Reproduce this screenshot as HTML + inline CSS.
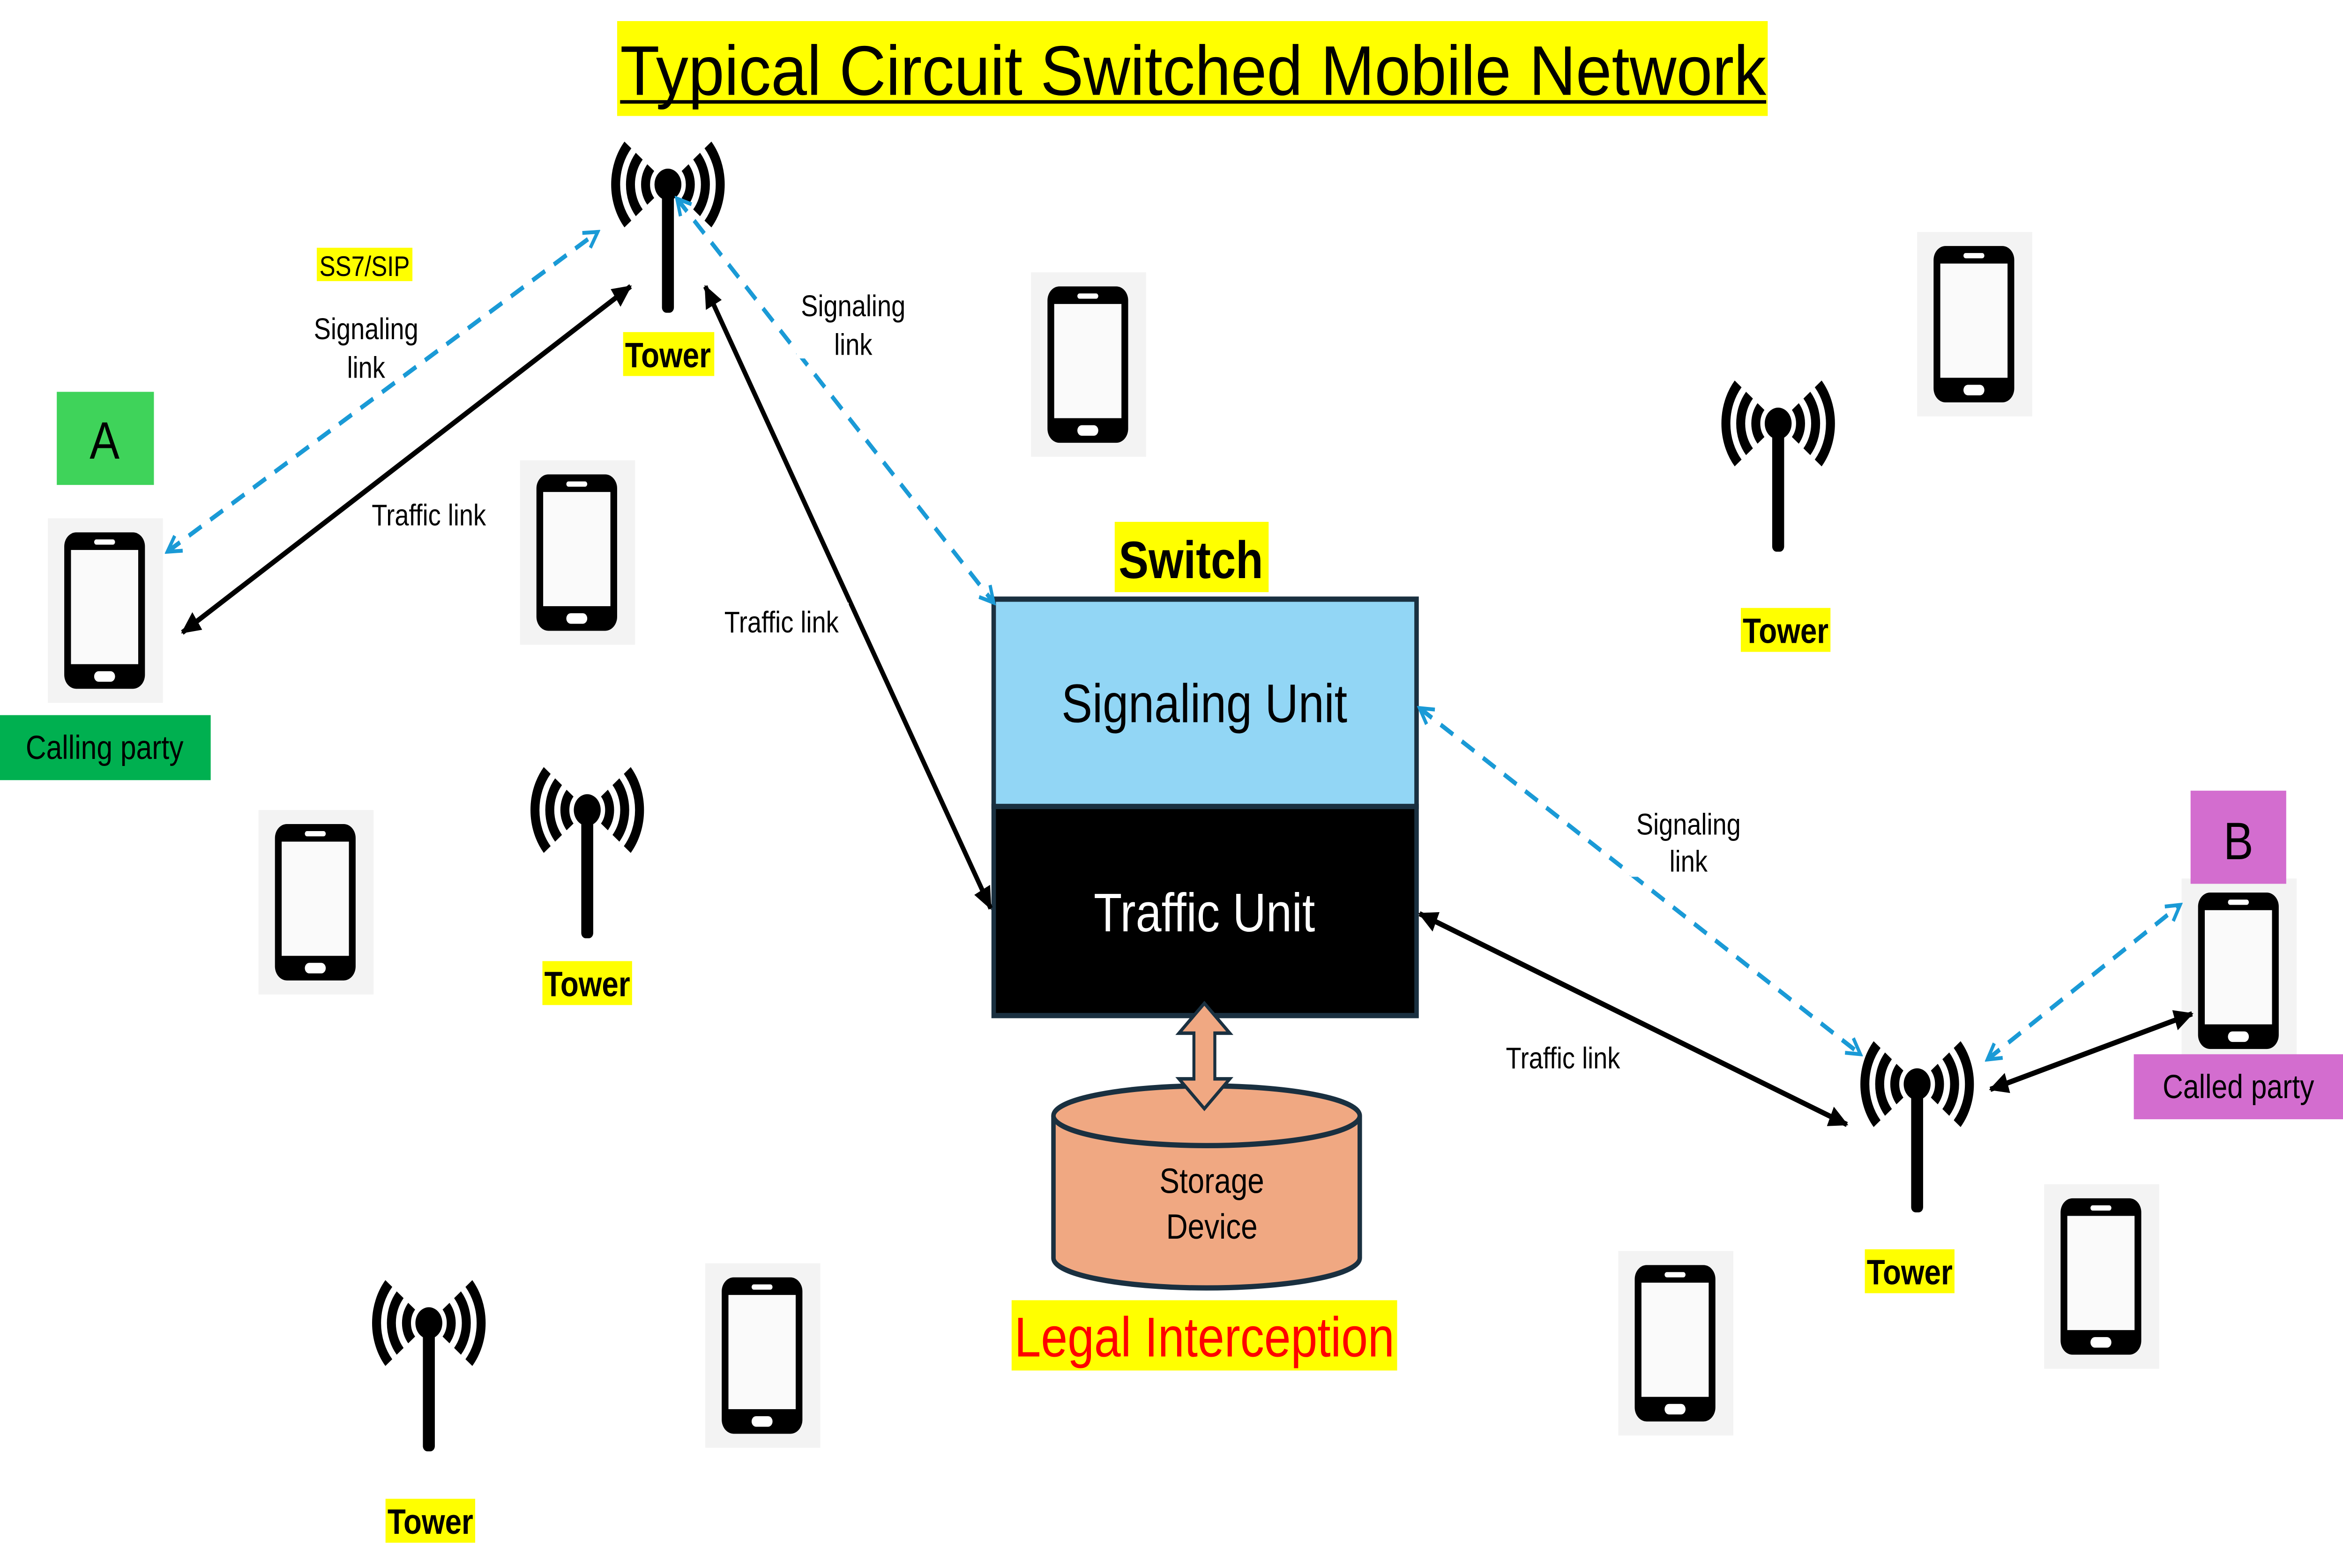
<!DOCTYPE html>
<html><head><meta charset="utf-8"><style>
html,body{margin:0;padding:0;background:#fff;overflow:hidden;width:100vw;height:100vh}
svg{display:block;width:100vw;height:100vh}
text{font-family:"Liberation Sans",sans-serif}
</style></head><body>
<svg viewBox="0 0 1568 892.4" preserveAspectRatio="none" xmlns="http://www.w3.org/2000/svg">
<defs>
<g id="tw">
<circle cx="0" cy="0" r="9" fill="#000"/>
<rect x="-4" y="0" width="8" height="73" rx="3" fill="#000"/>
<g fill="none" stroke="#000" stroke-width="6">
<path d="M -11.5 -9.6 A 15 15 0 0 0 -11.5 9.6"/>
<path d="M -19.2 -16.1 A 25 25 0 0 0 -19.2 16.1"/>
<path d="M -26.8 -22.5 A 35 35 0 0 0 -26.8 22.5"/>
<path d="M 11.5 -9.6 A 15 15 0 0 1 11.5 9.6"/>
<path d="M 19.2 -16.1 A 25 25 0 0 1 19.2 16.1"/>
<path d="M 26.8 -22.5 A 35 35 0 0 1 26.8 22.5"/>
</g>
</g>
<g id="ph">
<rect x="0" y="0" width="77" height="105" fill="#f3f3f3"/>
<rect x="11" y="8" width="54" height="89" rx="8" fill="#000"/>
<rect x="15.5" y="18" width="45" height="65" fill="#fafafa"/>
<rect x="31" y="12" width="14" height="3" rx="1.5" fill="#fff"/>
<rect x="31" y="87" width="14" height="6" rx="3" fill="#fff"/>
</g>
<marker id="ab" markerWidth="12" markerHeight="12" refX="10" refY="6" orient="auto-start-reverse" markerUnits="userSpaceOnUse">
<path d="M1 1 L10 6 L1 11" fill="none" stroke="#1a9ad6" stroke-width="2.2"/>
</marker>
<marker id="ak" markerWidth="14" markerHeight="14" refX="12" refY="7" orient="auto-start-reverse" markerUnits="userSpaceOnUse">
<path d="M0 1 L13 7 L0 13 Z" fill="#000"/>
</marker>
</defs>

<rect x="413" y="12" width="770" height="54" fill="#ffff00"/>
<text x="415" y="54" font-size="40" textLength="767" lengthAdjust="spacingAndGlyphs">Typical Circuit Switched Mobile Network</text>
<line x1="415" y1="58" x2="1182" y2="58" stroke="#000" stroke-width="2"/>

<use href="#ph" x="32" y="295"/>
<use href="#ph" x="348" y="262"/>
<use href="#ph" x="690" y="155"/>
<use href="#ph" x="1283" y="132"/>
<use href="#ph" x="173" y="461"/>
<use href="#ph" x="1460" y="500"/>
<use href="#ph" x="1368" y="674"/>
<use href="#ph" x="1083" y="712"/>
<use href="#ph" x="472" y="719"/>

<use href="#tw" x="447" y="105"/>
<use href="#tw" x="1190" y="241"/>
<use href="#tw" x="393" y="461"/>
<use href="#tw" x="1283" y="617"/>
<use href="#tw" x="287" y="753"/>

<g font-size="20" font-weight="bold" text-anchor="middle">
<rect x="417" y="189" width="61" height="25" fill="#ffff00"/><text x="447" y="209">Tower</text>
<rect x="1165" y="346" width="60" height="25" fill="#ffff00"/><text x="1195" y="366">Tower</text>
<rect x="363" y="547" width="60" height="25" fill="#ffff00"/><text x="393" y="567">Tower</text>
<rect x="1248" y="711" width="60" height="25" fill="#ffff00"/><text x="1278" y="731">Tower</text>
<rect x="258" y="853" width="60" height="25" fill="#ffff00"/><text x="288" y="873">Tower</text>
</g>

<rect x="38" y="223" width="65" height="53" fill="#3fd35a"/>
<text x="70" y="261" font-size="30" text-anchor="middle">A</text>
<rect x="0" y="407" width="141" height="37" fill="#00b050"/>
<text x="70" y="432" font-size="19" text-anchor="middle">Calling party</text>

<rect x="1466" y="450" width="64" height="53" fill="#d36dcf"/>
<text x="1498" y="489" font-size="30" text-anchor="middle">B</text>
<rect x="1428" y="600" width="140" height="37" fill="#d36dcf"/>
<text x="1498" y="625" font-size="19" text-anchor="middle">Called party</text>

<rect x="746" y="297" width="103" height="40" fill="#ffff00"/>
<text x="797" y="329" font-size="30" font-weight="bold" text-anchor="middle">Switch</text>
<rect x="665" y="341" width="283" height="118" fill="#92d6f5" stroke="#1a3040" stroke-width="3"/>
<text x="806" y="411" font-size="31" text-anchor="middle">Signaling Unit</text>
<rect x="665" y="459" width="283" height="119" fill="#000" stroke="#1a3040" stroke-width="3"/>
<text x="806" y="530" font-size="31" fill="#fff" text-anchor="middle">Traffic Unit</text>

<path d="M705 635 L705 716 A102.5 17 0 0 0 910 716 L910 635" fill="#f0a882" stroke="#1a3040" stroke-width="3"/>
<ellipse cx="807.5" cy="635" rx="102.5" ry="17" fill="#f0a882" stroke="#1a3040" stroke-width="3"/>
<text x="811" y="679" font-size="20" text-anchor="middle">Storage</text>
<text x="811" y="705" font-size="20" text-anchor="middle">Device</text>
<path d="M806 571 L823 588 L813 588 L813 614 L823 614 L806 631 L789 614 L799 614 L799 588 L789 588 Z" fill="#f0a882" stroke="#1a3040" stroke-width="2"/>

<rect x="677" y="740" width="258" height="40" fill="#ffff00"/>
<text x="806" y="772" font-size="32" fill="#ff0000" text-anchor="middle">Legal Interception</text>

<g stroke="#1a9ad6" stroke-width="2.6" stroke-dasharray="10,7" fill="none">
<line x1="112" y1="314" x2="400" y2="132" marker-start="url(#ab)" marker-end="url(#ab)"/>
<line x1="453" y1="113" x2="665" y2="343" marker-start="url(#ab)" marker-end="url(#ab)"/>
<line x1="950" y1="403" x2="1245" y2="600" marker-start="url(#ab)" marker-end="url(#ab)"/>
<line x1="1330" y1="603" x2="1459" y2="515" marker-start="url(#ab)" marker-end="url(#ab)"/>
</g>
<g stroke="#000" stroke-width="3" fill="none">
<line x1="122" y1="360" x2="422" y2="163" marker-start="url(#ak)" marker-end="url(#ak)"/>
<line x1="472" y1="163" x2="663" y2="517" marker-start="url(#ak)" marker-end="url(#ak)"/>
<line x1="950" y1="520" x2="1236" y2="640" marker-start="url(#ak)" marker-end="url(#ak)"/>
<line x1="1332" y1="620" x2="1467" y2="577" marker-start="url(#ak)" marker-end="url(#ak)"/>
</g>

<g font-size="17" text-anchor="middle">
<rect x="212" y="141" width="64" height="19" fill="#ffff00"/><text x="244" y="157" font-size="16">SS7/SIP</text>
<text x="245" y="193">Signaling</text><text x="245" y="215">link</text>
<rect x="244" y="282" width="86" height="22" fill="#fff"/><text x="287" y="299">Traffic link</text>
<rect x="533" y="162" width="78" height="42" fill="#fff"/>
<text x="571" y="180">Signaling</text><text x="571" y="202">link</text>
<rect x="480" y="343" width="88" height="22" fill="#fff"/><text x="523" y="360">Traffic link</text>
<rect x="1091" y="457" width="78" height="42" fill="#fff"/>
<text x="1130" y="475">Signaling</text><text x="1130" y="496">link</text>
<text x="1046" y="608">Traffic link</text>
</g>
</svg>
</body></html>
